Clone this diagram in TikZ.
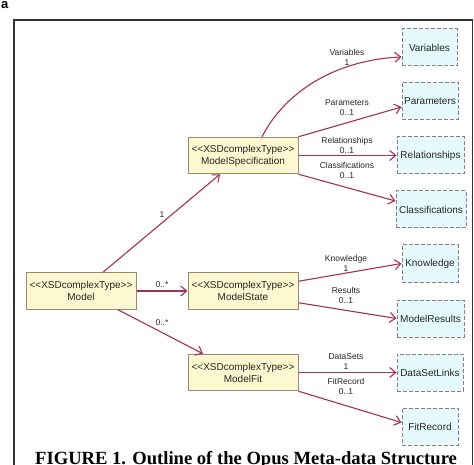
\documentclass[tikz,border=0pt]{standalone}
\usepackage{fontspec}
\setmainfont{Liberation Serif}
\newfontfamily\arialf{Liberation Sans}
\usetikzlibrary{arrows.meta,calc}
\definecolor{boxfill}{HTML}{FDF8CF}
\definecolor{boxline}{HTML}{A08870}
\definecolor{cyfill}{HTML}{E4FAFC}
\definecolor{cyline}{HTML}{8C7A8A}
\definecolor{arr}{HTML}{A3305A}
\definecolor{txt}{HTML}{262626}
\tikzset{
  typebox/.style={draw=boxline, fill=boxfill, line width=1pt, inner sep=0pt,
    minimum width=110pt, minimum height=36.5pt, align=center, text=txt,
    font=\arialf\fontsize{10}{12}\selectfont},
  refbox/.style={draw=cyline, fill=cyfill, line width=1pt, dash pattern=on 4pt off 2pt,
    inner sep=0pt, minimum height=37pt, align=center, text=txt,
    font=\arialf\fontsize{10}{12}\selectfont},
  conn/.style={draw=arr, line width=1.1pt, -{Straight Barb[length=6pt,width=10pt,line width=1.1pt]}},
  lab/.style={align=center, inner sep=0pt, text=txt, font=\arialf\fontsize{8.5}{10}\selectfont}
}
\begin{document}
\begin{tikzpicture}[x=1pt,y=-1pt]
\useasboundingbox (0,0) rectangle (474,465);
\fill[white] (0,0) rectangle (474,465);
\begin{scope}
\clip (0,0) rectangle (474,465);
\draw[line width=1.5pt, draw=black!80] (14,20) rectangle (472.5,480);
\node[font=\arialf\bfseries\fontsize{13}{14}\selectfont, inner sep=0pt, anchor=north west] (tag) at (1,1) {a};
\node[font=\bfseries\fontsize{18.6}{22}\selectfont, anchor=base west, inner sep=0pt] (cap) at (35,464) {FIGURE 1. Outline of the Opus Meta-data Structure};
\end{scope}

% type boxes
\node[typebox] (model) at (81,291) {<<XSDcomplexType>>\\Model};
\node[typebox] (spec) at (243,155.5) {<<XSDcomplexType>>\\ModelSpecification};
\node[typebox] (state) at (243,291) {<<XSDcomplexType>>\\ModelState};
\node[typebox] (fit) at (243,372.5) {<<XSDcomplexType>>\\ModelFit};

% referenced boxes
\node[refbox, minimum width=55pt] (var) at (429.5,47.5) {Variables};
\node[refbox, minimum width=56pt] (par) at (430,101) {Parameters};
\node[refbox, minimum width=67pt] (rel) at (430.5,155.5) {Relationships};
\node[refbox, minimum width=70pt] (cls) at (431,209.5) {Classifications};
\node[refbox, minimum width=56pt] (kno) at (430,263.5) {Knowledge};
\node[refbox, minimum width=67pt] (res) at (430.5,318.5) {ModelResults};
\node[refbox, minimum width=66pt] (dsl) at (430,372.5) {DataSetLinks};
\node[refbox, minimum width=56pt] (frc) at (430,426.5) {FitRecord};

% connectors from Model
\draw[conn] ($(model.north)+(22,0)$) -- ($(spec.south)+(-23,0)$);
\draw[conn] (model.east) -- (state.west);
\draw[conn] ($(model.south)+(37,0)$) -- ($(fit.north)+(-40,0)$);
\node[lab] (l1) at (162,215) {1};
\node[lab] (l2) at (162,285) {0..*};
\node[lab] (l3) at (162,323) {0..*};

% connectors from ModelSpecification
\draw[conn] ($(spec.north)+(19,0)$) .. controls (285,92) and (335,60) .. ($(var.west)+(0,9.5)$);
\draw[conn] (spec.north east) -- ($(par.west)+(0,6)$);
\draw[conn] (spec.east) -- (rel.west);
\draw[conn] (spec.south east) -- ($(cls.west)+(0,-8.5)$);
\node[lab] (lv) at (347,57.5) {Variables\\1};
\node[lab] (lp) at (347,107.5) {Parameters\\0..1};
\node[lab] (lr) at (347,145) {Relationships\\0..1};
\node[lab] (lc) at (347,170) {Classifications\\0..1};

% connectors from ModelState
\draw[conn] ($(state.north east)+(0,9)$) -- (kno.west);
\draw[conn] ($(state.south east)+(0,-7)$) -- (res.west);
\node[lab] (lk) at (346,263) {Knowledge\\1};
\node[lab] (lres) at (346,295.5) {Results\\0..1};

% connectors from ModelFit
\draw[conn] (fit.east) -- (dsl.west);
\draw[conn] (fit.south east) -- ($(frc.west)+(0,-4)$);
\node[lab] (ld) at (346,361.5) {DataSets\\1};
\node[lab] (lf) at (346,386.5) {FitRecord\\0..1};
\end{tikzpicture}
\end{document}
